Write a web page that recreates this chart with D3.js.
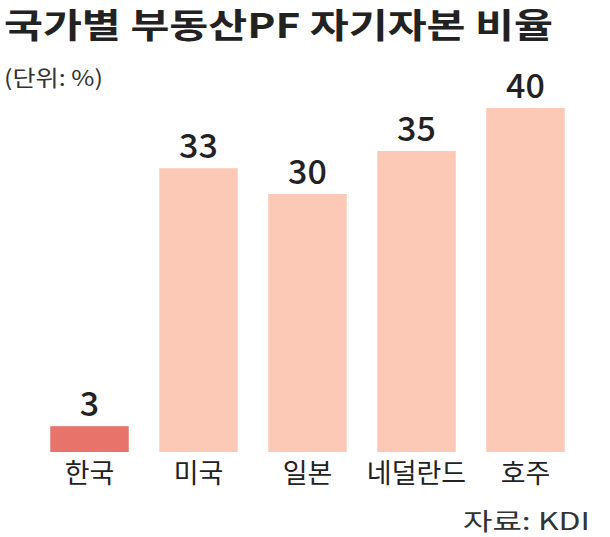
<!DOCTYPE html>
<html><head><meta charset="utf-8">
<script src="https://cdn.jsdelivr.net/npm/d3@7"></script>
<style>body{margin:0;background:#fff}</style></head>
<body><svg id="c" width="610" height="537"></svg>
<script>
const categories = ["한국","미국","일본","네덜란드","호주"];
const values = [3,33,30,35,40];
const colors = ["#e8736a","#fbc9b5","#fbc9b5","#fbc9b5","#fbc9b5"];
const font = "'Noto Sans CJK KR', sans-serif";
const svg = d3.select("#c");
const x = d3.scaleBand().domain(categories).range([35,580]).paddingInner(0.28).paddingOuter(0.14);
const y = d3.scaleLinear().domain([0,40]).range([452,108]);
svg.append("text").attr("x",4).attr("y",38).attr("font-family",font).attr("font-weight",700)
  .attr("font-size",34).attr("fill","#222").attr("textLength",549).attr("lengthAdjust","spacingAndGlyphs")
  .text("국가별 부동산PF 자기자본 비율");
svg.append("text").attr("x",4).attr("y",86).attr("font-family",font)
  .attr("font-size",22).attr("fill","#333").attr("textLength",99).attr("lengthAdjust","spacingAndGlyphs").text("(단위: %)");
svg.selectAll("rect.b").data(values).enter().append("rect")
  .attr("x",(d,i)=>x(categories[i])).attr("width",x.bandwidth())
  .attr("y",d=>y(d)).attr("height",d=>y(0)-y(d)).attr("fill",(d,i)=>colors[i]);
svg.selectAll("text.v").data(values).enter().append("text")
  .attr("x",(d,i)=>x(categories[i])+x.bandwidth()/2).attr("y",d=>y(d)-10)
  .attr("text-anchor","middle").attr("font-family",font).attr("font-size",34).attr("font-weight",500)
  .attr("fill","#222").text(d=>d);
svg.append("g").attr("transform","translate(0,452)")
  .call(d3.axisBottom(x).tickSize(0).tickPadding(12))
  .call(g=>g.select(".domain").remove())
  .call(g=>g.selectAll("text").attr("font-family",font).attr("font-size",27).attr("fill","#222"));
svg.append("text").attr("x",590).attr("y",530).attr("text-anchor","end").attr("font-family",font)
  .attr("font-size",24).attr("fill","#333").attr("textLength",127).attr("lengthAdjust","spacingAndGlyphs").text("자료: KDI");
</script></body></html>
